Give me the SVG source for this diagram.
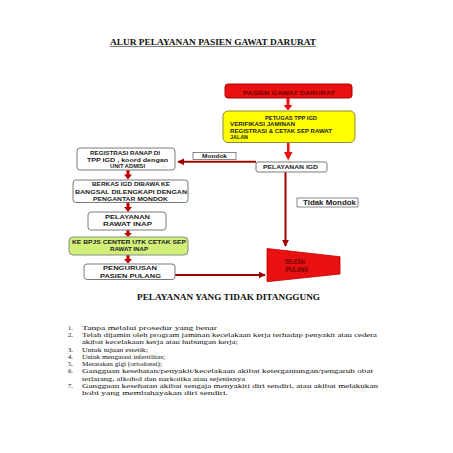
<svg xmlns="http://www.w3.org/2000/svg" width="453" height="453" viewBox="0 0 453 453">
<defs>
<style>
.serif{font-family:"Liberation Serif","Times New Roman",serif;fill:#111}
.hd{font-size:7.5px;font-weight:bold}
.li{font-size:6.6px}
.ft{font-family:"Liberation Sans",Arial,sans-serif;font-weight:bold;font-size:6px;fill:#222}
.box{fill:#fff;stroke:#7a7a7a;stroke-width:1}
.lbl{fill:#fff;stroke:#555;stroke-width:0.7}
.conn{stroke:#a00000;stroke-width:2;fill:none}
.blk{fill:#c00000}
.red{fill:#e81010}
</style>
<marker id="ah" viewBox="0 0 10 10" refX="9" refY="5" markerWidth="3.5" markerHeight="3.5" orient="auto" markerUnits="strokeWidth">
<path d="M0,0 L10,5 L0,10 z" fill="#a00000"/>
</marker>
</defs>
<rect width="453" height="453" fill="#fff"/>

<text class="serif hd" x="110" y="45" textLength="206" lengthAdjust="spacingAndGlyphs">ALUR PELAYANAN  PASIEN GAWAT DARURAT</text>
<line x1="110" y1="46.4" x2="316" y2="46.4" stroke="#111" stroke-width="0.6"/>

<g id="connectors">
<path class="conn" d="M256,161.8 H178" marker-end="url(#ah)"/>
<path class="conn" d="M285.5,172 V246" marker-end="url(#ah)"/>
<path class="conn" d="M175,275 H265" marker-end="url(#ah)"/>
<polygon class="red" points="286.5,98 289.5,98 289.5,105 292.5,105 288,110.5 283.5,105 286.5,105"/>
<polygon class="red" points="287,143 289.5,143 289.5,152 292.5,152 288.2,160.5 284,152 287,152"/>
<polygon class="blk" points="126.5,170 129.5,170 129.5,174.5 132,174.5 128,179.5 124,174.5 126.5,174.5"/>
<polygon class="blk" points="126.5,202.5 129.5,202.5 129.5,207 132,207 128,212 124,207 126.5,207"/>
<polygon class="blk" points="126.5,230 129.5,230 129.5,233 132,233 128,237 124,233 126.5,233"/>
<polygon class="blk" points="126.5,255 129.5,255 129.5,259 132,259 128,263.5 124,259 126.5,259"/>
</g>

<g id="lbl-mondok">
<rect class="lbl" x="193" y="152.5" width="43" height="7"/>
<text class="ft" x="202" y="158.2" textLength="25" lengthAdjust="spacingAndGlyphs">Mondok</text>
</g>
<g id="lbl-tidak-mondok">
<rect class="lbl" x="297" y="198" width="61" height="9"/>
<text class="ft" style="font-size:6.5px" x="303" y="204.8" textLength="53" lengthAdjust="spacingAndGlyphs">Tidak Mondok</text>
</g>

<g id="n-pasien">
<rect x="225" y="84" width="127" height="14" rx="3" fill="#e81010" stroke="#b00000" stroke-width="1"/>
<text class="ft" style="fill:#700000" x="243" y="94.8" textLength="92" lengthAdjust="spacingAndGlyphs">PASIEN GAWAT DARURAT</text>
</g>

<g id="n-petugas">
<rect x="223" y="111" width="132" height="31.5" rx="5" fill="#ffff00" stroke="#8a8a40" stroke-width="1"/>
<text class="ft" x="265" y="119.7" textLength="52" lengthAdjust="spacingAndGlyphs">PETUGAS TPP IGD</text>
<text class="ft" x="230" y="126" textLength="65" lengthAdjust="spacingAndGlyphs">VERIFIKASI JAMINAN</text>
<text class="ft" x="230" y="132.8" textLength="102" lengthAdjust="spacingAndGlyphs">REGISTRASI &amp; CETAK SEP RAWAT</text>
<text class="ft" x="230" y="139.3" textLength="18" lengthAdjust="spacingAndGlyphs">JALAN</text>
</g>

<g id="n-igd">
<rect class="box" x="256" y="162" width="71" height="10" rx="2"/>
<text class="ft" x="263" y="169" textLength="55" lengthAdjust="spacingAndGlyphs">PELAYANAN IGD</text>
</g>

<g id="n-registrasi">
<rect class="box" x="77" y="148" width="98" height="22" rx="3"/>
<text class="ft" x="90" y="155" textLength="70" lengthAdjust="spacingAndGlyphs">REGISTRASI RANAP  DI</text>
<text class="ft" x="87" y="161.6" textLength="81" lengthAdjust="spacingAndGlyphs">TPP IGD , koord dengan</text>
<text class="ft" x="110" y="168.3" textLength="35" lengthAdjust="spacingAndGlyphs">UNIT ADMISI</text>
</g>

<g id="n-berkas">
<rect class="box" x="73" y="180" width="115" height="22.5" rx="3"/>
<text class="ft" x="92" y="186.3" textLength="78" lengthAdjust="spacingAndGlyphs">BERKAS IGD DIBAWA KE</text>
<text class="ft" x="75" y="193.5" textLength="112" lengthAdjust="spacingAndGlyphs">BANGSAL DILENGKAPI DENGAN</text>
<text class="ft" x="93" y="200.7" textLength="75" lengthAdjust="spacingAndGlyphs">PENGANTAR MONDOK</text>
</g>

<g id="n-rawat">
<rect class="box" x="88" y="212" width="78" height="18" rx="3"/>
<text class="ft" x="105" y="218.5" textLength="45" lengthAdjust="spacingAndGlyphs">PELAYANAN</text>
<text class="ft" x="103" y="225.8" textLength="49" lengthAdjust="spacingAndGlyphs">RAWAT INAP</text>
</g>

<g id="n-bpjs">
<rect x="69" y="237" width="119" height="18" rx="4" fill="#d2ef78" stroke="#8a8a8a" stroke-width="1"/>
<text class="ft" x="72" y="244" textLength="114" lengthAdjust="spacingAndGlyphs">KE BPJS CENTER UTK CETAK SEP</text>
<text class="ft" x="110" y="250.8" textLength="38" lengthAdjust="spacingAndGlyphs">RAWAT INAP</text>
</g>

<g id="n-pulang">
<rect class="box" x="84" y="264" width="91" height="15.5" rx="3"/>
<text class="ft" x="103" y="270.3" textLength="54" lengthAdjust="spacingAndGlyphs">PENGURUSAN</text>
<text class="ft" x="100" y="277.8" textLength="61" lengthAdjust="spacingAndGlyphs">PASIEN PULANG</text>
</g>

<g id="n-selesai">
<polygon points="267,248.5 340,256.7 340,274 267,281.7" fill="#e81010" stroke="#c00000" stroke-width="0.8"/>
<text class="ft" style="fill:#700000;font-size:6.5px" x="285" y="264" textLength="20" lengthAdjust="spacingAndGlyphs">SELESAI</text>
<text class="ft" style="fill:#700000;font-size:6.5px" x="285" y="271.6" textLength="23" lengthAdjust="spacingAndGlyphs">/PULANG</text>
</g>

<text class="serif hd" x="137" y="300.3" textLength="183" lengthAdjust="spacingAndGlyphs">PELAYANAN  YANG  TIDAK  DITANGGUNG</text>

<g class="serif li">
<text x="68" y="329.8">1.</text><text x="82" y="329.8" textLength="135" lengthAdjust="spacingAndGlyphs">Tanpa melalui prosedur yang benar</text>
<text x="68" y="337.1">2.</text><text x="82" y="337.1" textLength="295" lengthAdjust="spacingAndGlyphs">Telah dijamin oleh program jaminan kecelakaan kerja terhadap penyakit atau cedera</text>
<text x="82" y="344.3" textLength="156" lengthAdjust="spacingAndGlyphs">akibat kecelakaan kerja atau hubungan kerja;</text>
<text x="68" y="351.6">3.</text><text x="82" y="351.6" textLength="66" lengthAdjust="spacingAndGlyphs">Untuk tujuan estetik;</text>
<text x="68" y="358.8">4.</text><text x="82" y="358.8" textLength="83" lengthAdjust="spacingAndGlyphs">Untuk mengatasi infertilitas;</text>
<text x="68" y="366.1">5.</text><text x="82" y="366.1" textLength="80" lengthAdjust="spacingAndGlyphs">Meratakan gigi (ortodonsi);</text>
<text x="68" y="373.3">6.</text><text x="82" y="373.3" textLength="291" lengthAdjust="spacingAndGlyphs">Gangguan kesehatan/penyakit/kecelakaan akibat ketergantungan/pengaruh obat</text>
<text x="82" y="380.6" textLength="163" lengthAdjust="spacingAndGlyphs">terlarang, alkohol dan narkotika atau sejenisnya</text>
<text x="68" y="387.8">7.</text><text x="82" y="387.8" textLength="296" lengthAdjust="spacingAndGlyphs">Gangguan kesehatan akibat sengaja menyakiti diri sendiri, atau akibat melakukan</text>
<text x="82" y="395.1" textLength="146" lengthAdjust="spacingAndGlyphs">hobi yang membahayakan diri sendiri.</text>
</g>
</svg>
